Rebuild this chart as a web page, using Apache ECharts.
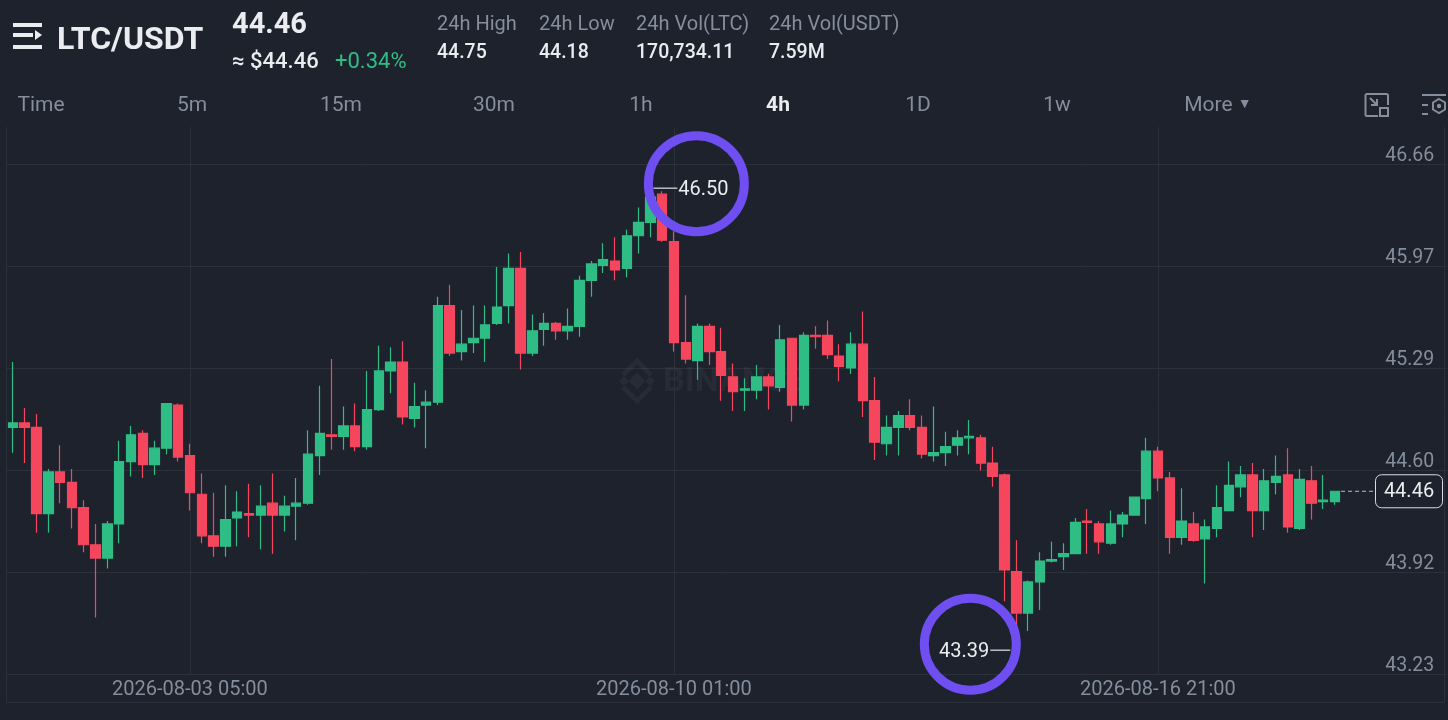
<!doctype html>
<html lang="en">

<head>
    <meta charset="utf-8">
    <title>LTC/USDT 4h</title>
    <script src="https://cdn.jsdelivr.net/npm/echarts@6.0.0/dist/echarts.min.js"></script>
    <style type="text/css">
        html, body {
            margin: 0;
            padding: 0;
            width: 1448px;
            height: 720px;
            overflow: hidden;
            background: #1e222d;
            font-family: Roboto, "Noto Sans", sans-serif;
        }

        #chart_kline {
            position: absolute;
            left: 0;
            top: 0;
            width: 1448px;
            height: 720px;
        }

        .hd {
            position: absolute;
            white-space: nowrap;
            line-height: 1;
            transform: translateY(-50%);
            z-index: 2;
        }

        .tab {
            position: absolute;
            top: 104px;
            transform: translate(-50%, -50%);
            font-size: 21px;
            color: #848e9c;
            line-height: 1;
            z-index: 2;
        }
    </style>
</head>

<body>
    <!-- header -->
    <svg class="hd" style="left:12px;top:36px" width="32" height="30" viewBox="0 0 32 30">
        <rect x="1" y="2" width="29" height="4" fill="#eaecef"/>
        <rect x="1" y="12" width="20" height="4" fill="#eaecef"/>
        <polygon points="23,9 30,14 23,19" fill="#eaecef"/>
        <rect x="1" y="24" width="29" height="4" fill="#eaecef"/>
    </svg>
    <div class="hd" style="left:57px;top:38px;font-size:32px;font-weight:700;color:#eaecef">LTC/USDT</div>
    <div class="hd" style="left:232px;top:23px;font-size:29px;font-weight:700;color:#eaecef">44.46</div>
    <div class="hd" style="left:232px;top:61px;font-size:22px;font-weight:500;color:#eaecef">≈ $44.46</div>
    <div class="hd" style="left:335px;top:61px;font-size:22px;color:#2ebd85">+0.34%</div>

    <div class="hd" style="left:437px;top:23px;font-size:20px;color:#848e9c">24h High</div>
    <div class="hd" style="left:437px;top:52px;font-size:19.5px;font-weight:500;color:#eaecef">44.75</div>
    <div class="hd" style="left:539px;top:23px;font-size:20px;color:#848e9c">24h Low</div>
    <div class="hd" style="left:539px;top:52px;font-size:19.5px;font-weight:500;color:#eaecef">44.18</div>
    <div class="hd" style="left:636px;top:23px;font-size:20px;color:#848e9c">24h Vol(LTC)</div>
    <div class="hd" style="left:636px;top:52px;font-size:19.5px;font-weight:500;color:#eaecef">170,734.11</div>
    <div class="hd" style="left:769px;top:23px;font-size:20px;color:#848e9c">24h Vol(USDT)</div>
    <div class="hd" style="left:769px;top:52px;font-size:19.5px;font-weight:500;color:#eaecef">7.59M</div>

    <div class="tab" style="left:41px">Time</div>
    <div class="tab" style="left:192px">5m</div>
    <div class="tab" style="left:341px">15m</div>
    <div class="tab" style="left:494px">30m</div>
    <div class="tab" style="left:641px">1h</div>
    <div class="tab" style="left:778px;color:#eaecef;font-weight:700">4h</div>
    <div class="tab" style="left:918px">1D</div>
    <div class="tab" style="left:1057px">1w</div>
    <div class="tab" style="left:1218px">More <span style="font-size:14px;vertical-align:3px">▼</span></div>

    <svg class="hd" style="left:1364px;top:105px" width="26" height="26" viewBox="0 0 26 26">
        <path d="M14 24 H3 a1.5 1.5 0 0 1 -1.5 -1.5 V3.5 A1.5 1.5 0 0 1 3 2 H22.5 A1.5 1.5 0 0 1 24 3.5 V13" fill="none" stroke="#848e9c" stroke-width="2"/>
        <rect x="16" y="16" width="8" height="8" fill="none" stroke="#848e9c" stroke-width="2"/>
        <path d="M6 6 L13 13 M13 7 V13 H7" fill="none" stroke="#848e9c" stroke-width="2"/>
    </svg>
    <svg class="hd" style="left:1421px;top:105px" width="27" height="26" viewBox="0 0 27 26">
        <path d="M1 3 H25 M1 13 H7 M1 22 H7" stroke="#848e9c" stroke-width="2"/>
        <polygon points="18,7 24,10.5 24,17.5 18,21 12,17.5 12,10.5" fill="none" stroke="#848e9c" stroke-width="2"/>
        <circle cx="18" cy="14" r="2.2" fill="#848e9c"/>
    </svg>

    <div id="chart_kline"></div>

    <script>
        // 4h candles, first one opens 2026-07-31 17:00
        const openPrices = [
            44.89, 44.92, 44.89, 44.31, 44.59, 44.52, 44.35, 44.10, 44.01, 44.24,
            44.66, 44.85, 44.64, 44.75, 45.04, 44.70, 44.44, 44.16, 44.09, 44.28,
            44.31, 44.30, 44.38, 44.30, 44.36, 44.38, 44.70, 44.84, 44.83, 44.90,
            44.76, 45.01, 45.27, 45.33, 44.95, 45.04, 45.06, 45.71, 45.40, 45.46,
            45.49, 45.59, 45.71, 45.96, 45.39, 45.55, 45.59, 45.54, 45.57, 45.88,
            45.98, 46.01, 45.96, 46.18, 46.27, 46.46, 46.14, 45.46, 45.34, 45.57,
            45.40, 45.23, 45.14, 45.14, 45.23, 45.16, 45.49, 45.04, 45.51, 45.51,
            45.37, 45.29, 45.45, 45.07, 44.78, 44.89, 44.97, 44.89, 44.70, 44.72,
            44.77, 44.82, 44.82, 44.65, 44.57, 43.92, 43.64, 43.85, 43.99, 44.02,
            44.04, 44.26, 44.24, 44.11, 44.24, 44.30, 44.41, 44.73, 44.55, 44.15,
            44.24, 44.14, 44.21, 44.33, 44.49, 44.57, 44.33, 44.52, 44.57, 44.21,
            44.53, 44.39, 44.39
        ];
        const closePrices = [
            44.92, 44.89, 44.31, 44.59, 44.52, 44.35, 44.10, 44.01, 44.24, 44.66,
            44.84, 44.64, 44.75, 45.05, 44.69, 44.45, 44.16, 44.09, 44.27, 44.32,
            44.30, 44.36, 44.30, 44.36, 44.38, 44.71, 44.85, 44.83, 44.90, 44.76,
            45.01, 45.27, 45.33, 44.96, 45.03, 45.06, 45.71, 45.39, 45.45, 45.49,
            45.58, 45.70, 45.96, 45.39, 45.54, 45.59, 45.54, 45.57, 45.88, 45.99,
            46.02, 45.95, 46.18, 46.27, 46.44, 46.15, 45.46, 45.35, 45.57, 45.40,
            45.24, 45.13, 45.15, 45.23, 45.17, 45.48, 45.04, 45.51, 45.50, 45.38,
            45.30, 45.45, 45.07, 44.79, 44.89, 44.97, 44.89, 44.71, 44.72, 44.76,
            44.82, 44.83, 44.65, 44.56, 43.93, 43.64, 43.85, 43.99, 44.00, 44.04,
            44.25, 44.25, 44.12, 44.24, 44.30, 44.42, 44.73, 44.55, 44.15, 44.26,
            44.13, 44.22, 44.35, 44.50, 44.57, 44.33, 44.53, 44.56, 44.22, 44.54,
            44.38, 44.40, 44.46
        ];
        const lowPrices = [
            44.72, 44.65, 44.18, 44.18, 44.38, 44.21, 44.05, 43.61, 43.94, 44.11,
            44.56, 44.55, 44.57, 44.71, 44.66, 44.33, 44.11, 44.02, 44.02, 44.09,
            44.15, 44.07, 44.04, 44.19, 44.13, 44.37, 44.57, 44.74, 44.74, 44.73,
            44.74, 45.00, 45.12, 44.91, 44.89, 44.75, 45.04, 45.37, 45.34, 45.39,
            45.33, 45.58, 45.59, 45.28, 45.37, 45.44, 45.48, 45.48, 45.50, 45.77,
            45.93, 45.88, 45.90, 46.06, 46.17, 46.14, 45.40, 45.32, 45.21, 45.31,
            45.07, 45.00, 45.00, 45.08, 45.01, 45.13, 44.93, 45.01, 45.42, 45.35,
            45.20, 45.25, 44.96, 44.67, 44.70, 44.70, 44.87, 44.68, 44.66, 44.63,
            44.70, 44.71, 44.60, 44.49, 43.72, 43.39, 43.52, 43.66, 43.98, 43.93,
            44.04, 44.04, 44.04, 44.10, 44.15, 44.30, 44.24, 44.46, 44.04, 44.10,
            44.12, 43.84, 44.15, 44.33, 44.42, 44.15, 44.20, 44.44, 44.18, 44.20,
            44.27, 44.34, 44.37
        ];
        const highPrices = [
            45.33, 45.02, 44.98, 44.61, 44.77, 44.61, 44.40, 44.24, 44.26, 44.80,
            44.90, 44.87, 44.80, 45.05, 45.05, 44.78, 44.58, 44.45, 44.50, 44.46,
            44.51, 44.50, 44.58, 44.43, 44.55, 44.87, 45.17, 45.35, 45.03, 45.05,
            45.27, 45.44, 45.43, 45.47, 45.19, 45.14, 45.77, 45.85, 45.68, 45.71,
            45.71, 45.97, 46.06, 46.07, 45.65, 45.66, 45.60, 45.69, 45.91, 46.01,
            46.13, 46.17, 46.22, 46.37, 46.50, 46.48, 46.21, 45.78, 45.59, 45.59,
            45.56, 45.32, 45.22, 45.31, 45.25, 45.58, 45.49, 45.53, 45.57, 45.61,
            45.45, 45.53, 45.67, 45.23, 44.97, 45.00, 45.08, 44.97, 45.03, 44.86,
            44.87, 44.94, 44.84, 44.76, 44.58, 44.13, 43.86, 44.05, 44.12, 44.11,
            44.28, 44.34, 44.26, 44.33, 44.32, 44.42, 44.82, 44.76, 44.59, 44.48,
            44.32, 44.27, 44.50, 44.66, 44.63, 44.65, 44.61, 44.70, 44.75, 44.61,
            44.63, 44.57, 44.46
        ];

        const xTickLabels = ['2026-08-03 05:00', '2026-08-10 01:00', '2026-08-16 21:00'];
        const yTickLabels = ['43.23', '43.92', '44.60', '45.29', '45.97', '46.66'];
        const lastPrice = 44.46;
        const highMark = { index: 54, value: 46.50 };
        const lowMark = { index: 85, value: 43.39 };

        const upColor = '#2ebd85';
        const downColor = '#f6465d';
        const gridColor = '#2b303b';
        const textGray = '#848e9c';

        const padSlots = 9; // empty room on the right for the price scale
        const startTime = Date.UTC(2026, 6, 31, 17, 0);

        function fmtTime(t) {
            let d = new Date(t);
            let p = function (n) { return String(n).padStart(2, '0'); };
            return d.getUTCFullYear() + '-' + p(d.getUTCMonth() + 1) + '-' + p(d.getUTCDate()) + ' ' + p(d.getUTCHours()) + ':' + p(d.getUTCMinutes());
        }

        function draw_kline() {
            let myChart = echarts.init(document.getElementById('chart_kline'));

            let categories = [];
            for (let i = 0; i < openPrices.length + padSlots; ++i) {
                categories.push(fmtTime(startTime + i * 4 * 3600 * 1000));
            }
            let candles = [];
            for (let i = 0; i < openPrices.length; ++i) {
                candles.push([openPrices[i], closePrices[i], lowPrices[i], highPrices[i]]);
            }

            let yMin = Number(yTickLabels[0]);
            let yStep = yMin / 63;
            let yMax = 46.912;

            let option = {
                backgroundColor: 'transparent',
                animation: false,
                grid: { left: 7, top: 127, width: 1440.2, bottom: 46 },
                xAxis: {
                    type: 'category',
                    data: categories,
                    boundaryGap: true,
                    axisLine: { show: false },
                    axisTick: { show: false },
                    splitLine: { show: false },
                    axisLabel: {
                        interval: function (index, value) { return xTickLabels.includes(value); },
                        color: textGray,
                        fontSize: 20,
                        fontFamily: 'Roboto',
                        margin: 6
                    }
                },
                yAxis: {
                    type: 'value',
                    position: 'right',
                    min: yMin,
                    max: yMax,
                    interval: yStep,
                    axisLine: { show: false },
                    axisTick: { show: false },
                    splitLine: { lineStyle: { color: gridColor, width: 1 }, showMaxLine: false },
                    axisLabel: {
                        inside: true,
                        margin: 13,
                        showMaxLabel: false,
                        color: textGray,
                        fontSize: 19.5,
                        fontFamily: 'Roboto',
                        verticalAlign: 'bottom',
                        lineHeight: 16,
                        formatter: function (v) { return v.toFixed(2); }
                    }
                },
                series: [
                    {
                        // vertical time grid lines, under the candles
                        type: 'line',
                        data: [],
                        z: 1,
                        silent: true,
                        markLine: {
                            silent: true,
                            symbol: ['none', 'none'],
                            label: { show: false },
                            lineStyle: { color: gridColor, type: 'solid', width: 1 },
                            data: xTickLabels.map(function (t) { return { xAxis: t }; })
                        }
                    },
                    {
                        type: 'candlestick',
                        data: candles,
                        z: 5,
                        barWidth: 10,
                        itemStyle: {
                            color: upColor,
                            color0: downColor,
                            borderColor: upColor,
                            borderColor0: downColor,
                            borderWidth: 1.2
                        }
                    }
                ]
            };
            myChart.setOption(option, true);

            // overlays placed with the chart's own scales
            let last = myChart.convertToPixel({ gridIndex: 0 }, [openPrices.length - 1, lastPrice]);
            let hi = myChart.convertToPixel({ gridIndex: 0 }, [highMark.index, highMark.value]);
            let lo = myChart.convertToPixel({ gridIndex: 0 }, [lowMark.index, lowMark.value]);
            let frame = { left: 6.5, right: 1444.5, top: 127, bottom: 702.5 };
            let ring = '#6f4ef2';
            let wm = 'rgba(255,255,255,0.045)';

            myChart.setOption({
                graphic: [
                    { type: 'line', silent: true, z: 0, shape: { x1: frame.left, y1: frame.top, x2: frame.left, y2: frame.bottom }, style: { stroke: gridColor, lineWidth: 1 } },
                    { type: 'line', silent: true, z: 0, shape: { x1: frame.right, y1: frame.top, x2: frame.right, y2: frame.bottom }, style: { stroke: gridColor, lineWidth: 1 } },
                    { type: 'line', silent: true, z: 0, shape: { x1: frame.left, y1: frame.bottom, x2: frame.right, y2: frame.bottom }, style: { stroke: gridColor, lineWidth: 1 } },
                    // watermark
                    {
                        type: 'group', silent: true, z: 0, x: 637, y: 381,
                        children: [
                            { type: 'rect', rotation: Math.PI / 4, shape: { x: -6, y: -6, width: 12, height: 12 }, style: { fill: wm } },
                            { type: 'rect', rotation: Math.PI / 4, x: -13, shape: { x: -3.5, y: -3.5, width: 7, height: 7 }, style: { fill: wm } },
                            { type: 'rect', rotation: Math.PI / 4, x: 13, shape: { x: -3.5, y: -3.5, width: 7, height: 7 }, style: { fill: wm } },
                            { type: 'polyline', shape: { points: [[-14, -6], [0, -20], [14, -6]] }, style: { stroke: wm, lineWidth: 5, fill: 'none' } },
                            { type: 'polyline', shape: { points: [[-14, 6], [0, 20], [14, 6]] }, style: { stroke: wm, lineWidth: 5, fill: 'none' } },
                            { type: 'text', x: 26, y: 1, style: { text: 'BINANCE', font: 'bold 34px Roboto', fill: wm, verticalAlign: 'middle' } }
                        ]
                    },
                    // last price
                    { type: 'line', silent: true, z: 10, shape: { x1: last[0] + 6, y1: last[1], x2: 1375, y2: last[1] }, style: { stroke: '#b7bdc6', lineWidth: 1, lineDash: [4, 3] } },
                    { type: 'rect', silent: true, z: 10, shape: { x: 1375.5, y: last[1] - 16.5, width: 67, height: 33, r: 6 }, style: { fill: '#1e222d', stroke: '#d8dce2', lineWidth: 1 } },
                    { type: 'text', silent: true, z: 11, x: 1409, y: last[1] + 1, style: { text: lastPrice.toFixed(2), font: '20px Roboto', fill: '#eaecef', align: 'center', verticalAlign: 'middle' } },
                    // high marker
                    { type: 'line', silent: true, z: 10, shape: { x1: hi[0] + 3, y1: hi[1], x2: hi[0] + 27, y2: hi[1] }, style: { stroke: '#b7bdc6', lineWidth: 1.5 } },
                    { type: 'text', silent: true, z: 11, x: hi[0] + 28, y: hi[1] + 1.5, style: { text: highMark.value.toFixed(2), font: '20px Roboto', fill: '#eaecef', align: 'left', verticalAlign: 'middle' } },
                    { type: 'circle', silent: true, z: 12, shape: { cx: hi[0] + 46, cy: hi[1] - 4.5, r: 48 }, style: { fill: 'none', stroke: ring, lineWidth: 9 } },
                    // low marker
                    { type: 'line', silent: true, z: 10, shape: { x1: lo[0] - 26, y1: lo[1], x2: lo[0] - 6, y2: lo[1] }, style: { stroke: '#b7bdc6', lineWidth: 1.5 } },
                    { type: 'text', silent: true, z: 11, x: lo[0] - 27, y: lo[1] + 2, style: { text: lowMark.value.toFixed(2), font: '20px Roboto', fill: '#eaecef', align: 'right', verticalAlign: 'middle' } },
                    { type: 'circle', silent: true, z: 12, shape: { cx: lo[0] - 46, cy: lo[1] - 6, r: 46 }, style: { fill: 'none', stroke: ring, lineWidth: 9 } }
                ]
            });
        }

        draw_kline();
    </script>
</body>

</html>
